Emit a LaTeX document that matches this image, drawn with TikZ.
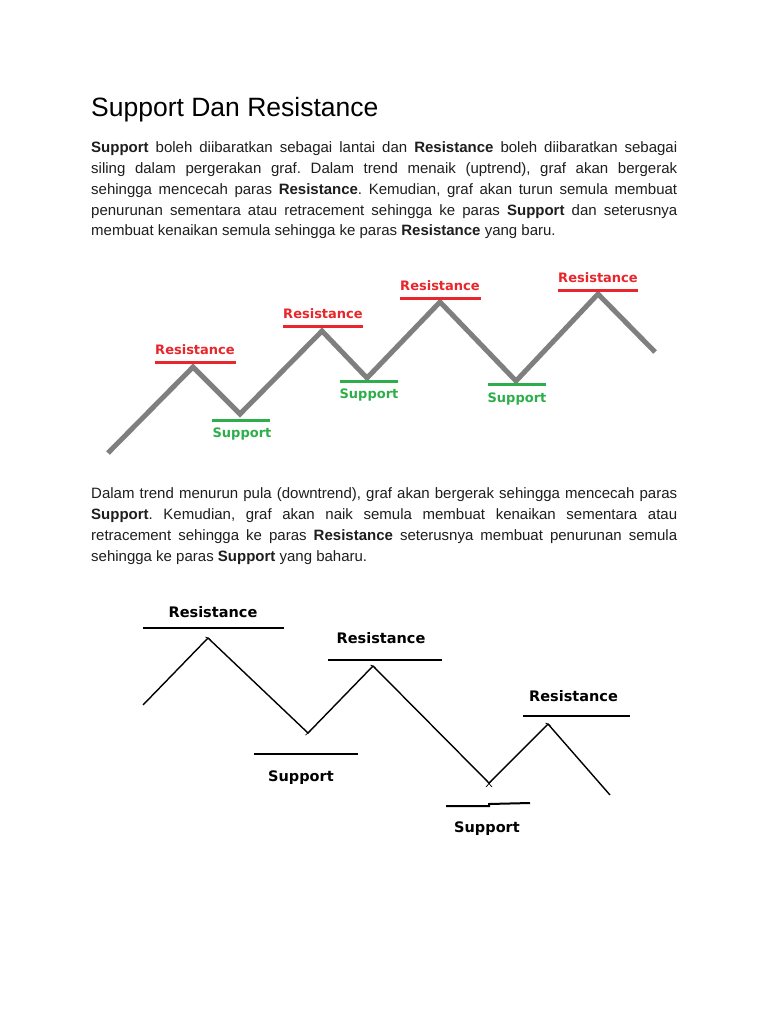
\documentclass[tikz,border=0pt]{standalone}
\usepackage{fontspec}
\setmainfont{Liberation Sans}
\newfontfamily\labfont{DejaVu Sans}
\definecolor{txt}{HTML}{1E1E1E}
\definecolor{myred}{HTML}{E8262B}
\definecolor{mygreen}{HTML}{2EAE4A}
\definecolor{mygray}{HTML}{7F7F7F}
\frenchspacing
\begin{document}
\begin{tikzpicture}[x=1pt,y=-1pt,
  bodyline/.style={anchor=base west,inner sep=0pt,text=txt,font=\fontsize{15}{17}\selectfont},
  titletext/.style={anchor=base west,inner sep=0pt,text=black,font=\fontsize{26.5}{30}\selectfont},
  redlab/.style={anchor=base,inner sep=0pt,text=myred,font=\labfont\bfseries\fontsize{13}{15}\selectfont},
  greenlab/.style={anchor=base,inner sep=0pt,text=mygreen,font=\labfont\bfseries\fontsize{13}{15}\selectfont},
  blacklab/.style={anchor=base,inner sep=0pt,text=black,font=\labfont\bfseries\fontsize{14.5}{17}\selectfont},
  redbar/.style={draw=myred,line width=3pt},
  greenbar/.style={draw=mygreen,line width=3pt},
  uptrendline/.style={draw=mygray,line width=5pt,line join=miter,line cap=butt},
  downtrendline/.style={draw=black,line width=1.4pt,line join=miter},
  blackbar/.style={draw=black,line width=2pt},
  tick/.style={draw=black,line width=0.7pt}
]
\useasboundingbox[fill=white] (0,0) rectangle (768,1024);

% Title
\node[titletext] (title) at (91,117) {Support Dan Resistance};

% Paragraph 1
\node[bodyline] (a1) at (91,153) {\makebox[586pt][s]{\textbf{Support} boleh diibaratkan sebagai lantai dan \textbf{Resistance} boleh diibaratkan sebagai}};
\node[bodyline] (a2) at (91,174) {\makebox[586pt][s]{siling dalam pergerakan graf. Dalam trend menaik (uptrend), graf akan bergerak}};
\node[bodyline] (a3) at (91,195) {\makebox[586pt][s]{sehingga mencecah paras \textbf{Resistance}. Kemudian, graf akan turun semula membuat}};
\node[bodyline] (a4) at (91,216) {\makebox[586pt][s]{penurunan sementara atau retracement sehingga ke paras \textbf{Support} dan seterusnya}};
\node[bodyline] (a5) at (91,236) {membuat kenaikan semula sehingga ke paras \textbf{Resistance} yang baru.};

% Upper chart (uptrend)
\coordinate (u0) at (108,453);
\coordinate (u1) at (193,367);
\coordinate (u2) at (240,414);
\coordinate (u3) at (322,331);
\coordinate (u4) at (367,378);
\coordinate (u5) at (440,302);
\coordinate (u6) at (516,381);
\coordinate (u7) at (598,294);
\coordinate (u8) at (655,352);
\draw[uptrendline] (u0) -- (u1) -- (u2) -- (u3) -- (u4) -- (u5) -- (u6) -- (u7) -- (u8);

\coordinate (r1a) at (155,362); \coordinate (r1b) at (236,362);
\coordinate (r2a) at (283,326); \coordinate (r2b) at (363,326);
\coordinate (r3a) at (400,298); \coordinate (r3b) at (481,298);
\coordinate (r4a) at (558,290); \coordinate (r4b) at (638,290);
\draw[redbar] (r1a) -- (r1b);
\draw[redbar] (r2a) -- (r2b);
\draw[redbar] (r3a) -- (r3b);
\draw[redbar] (r4a) -- (r4b);
\node[redlab] (rl1) at (195,354) {Resistance};
\node[redlab] (rl2) at (323,318.5) {Resistance};
\node[redlab] (rl3) at (440,290.5) {Resistance};
\node[redlab] (rl4) at (598,282.5) {Resistance};

\coordinate (g1a) at (212,420); \coordinate (g1b) at (270,420);
\coordinate (g2a) at (340,381); \coordinate (g2b) at (398,381);
\coordinate (g3a) at (488,384); \coordinate (g3b) at (546,384);
\draw[greenbar] (g1a) -- (g1b);
\draw[greenbar] (g2a) -- (g2b);
\draw[greenbar] (g3a) -- (g3b);
\node[greenlab] (gl1) at (242,437) {Support};
\node[greenlab] (gl2) at (369,398) {Support};
\node[greenlab] (gl3) at (517,402) {Support};

% Paragraph 2
\node[bodyline] (b1) at (91,498) {\makebox[586pt][s]{Dalam trend menurun pula (downtrend), graf akan bergerak sehingga mencecah paras}};
\node[bodyline] (b2) at (91,519) {\makebox[586pt][s]{\textbf{Support}. Kemudian, graf akan naik semula membuat kenaikan sementara atau}};
\node[bodyline] (b3) at (91,540) {\makebox[586pt][s]{retracement sehingga ke paras \textbf{Resistance} seterusnya membuat penurunan semula}};
\node[bodyline] (b4) at (91,561) {sehingga ke paras \textbf{Support} yang baharu.};

% Lower chart (downtrend)
\coordinate (d0) at (143,705);
\coordinate (d1) at (208,638);
\coordinate (d2) at (308,733);
\coordinate (d3) at (373,666);
\coordinate (d4) at (489,783);
\coordinate (d5) at (548,724);
\coordinate (d6) at (610,795);
\draw[downtrendline] (d0) -- (d1) -- (d2) -- (d3) -- (d4) -- (d5) -- (d6);
\foreach \v in {d1,d3,d5} {
  \draw[tick] ([shift={(-2.5,-1)}]\v) -- ([shift={(2.5,1.5)}]\v);
}
\draw[tick] ([shift={(-2.5,2)}]d2) -- ([shift={(2.5,-2)}]d2);
\draw[tick] ([shift={(-4,-4)}]d4) -- ([shift={(3,4)}]d4);
\draw[tick] ([shift={(4,-4)}]d4) -- ([shift={(-3,4)}]d4);

\coordinate (k1a) at (143,628); \coordinate (k1b) at (284,628);
\coordinate (k2a) at (328,660); \coordinate (k2b) at (442,660);
\coordinate (k3a) at (523,716); \coordinate (k3b) at (630,716);
\coordinate (s1a) at (254,754); \coordinate (s1b) at (358,754);
\coordinate (s2a) at (446,806); \coordinate (s2m) at (489,806);
\coordinate (s2n) at (489,804); \coordinate (s2b) at (530,803);
\draw[blackbar] (k1a) -- (k1b);
\draw[blackbar] (k2a) -- (k2b);
\draw[blackbar] (k3a) -- (k3b);
\draw[blackbar] (s1a) -- (s1b);
\draw[blackbar] (s2a) -- (s2m) -- (s2n) -- (s2b);

\node[blacklab] (kl1) at (213,617) {Resistance};
\node[blacklab] (kl2) at (381,643.5) {Resistance};
\node[blacklab] (kl3) at (573.5,701.5) {Resistance};
\node[blacklab] (sl1) at (301,781) {Support};
\node[blacklab] (sl2) at (487,832) {Support};
\end{tikzpicture}
\end{document}
